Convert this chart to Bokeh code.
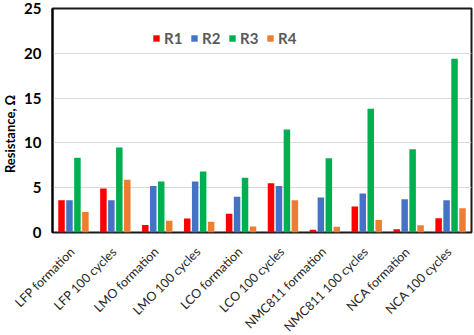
from bokeh.plotting import figure
from bokeh.models import (FactorRange, Range1d, Legend, LegendItem, FixedTicker,
                          ColumnDataSource)
from bokeh.layouts import column, row
from bokeh.core.properties import value
from bokeh.transform import dodge
from bokeh.embed import file_html
from bokeh.resources import INLINE
import math

categories = ["LFP formation", "LFP 100 cycles", "LMO formation", "LMO 100 cycles",
              "LCO formation", "LCO 100 cycles", "NMC811 formation", "NMC811 100 cycles",
              "NCA formation", "NCA 100 cycles"]
R1 = [3.6, 4.9, 0.85, 1.55, 2.1, 5.5, 0.3, 2.9, 0.35, 1.6]
R2 = [3.6, 3.6, 5.2, 5.7, 4.0, 5.2, 3.9, 4.35, 3.7, 3.6]
R3 = [8.35, 9.5, 5.7, 6.8, 6.1, 11.5, 8.3, 13.8, 9.3, 19.4]
R4 = [2.3, 5.9, 1.3, 1.2, 0.67, 3.6, 0.63, 1.4, 0.8, 2.7]
series_names = ["R1", "R2", "R3", "R4"]
series_colors = ["#FF0000", "#4472C4", "#00B050", "#ED7D31"]
y_ticks = [0, 5, 10, 15, 20, 25]
y_title = "Resistance, \u03a9"

W, H = 474, 335
TW = 18                      # width of the strip holding the y title
LEFT, RIGHT, TOP, BOT = 52, 3, 8, 8
H1 = 240                     # chart height (frame bottom at H1 - BOT)
H2 = H - H1                  # strip for category labels
n = len(categories)
unit = (W - LEFT - RIGHT) / n

source = ColumnDataSource(dict(cat=categories, R1=R1, R2=R2, R3=R3, R4=R4))

p = figure(width=W - TW, height=H1, x_range=FactorRange(*categories, range_padding=0),
           y_range=Range1d(0, 25), output_backend="svg", toolbar_location=None,
           min_border_left=LEFT - TW, min_border_right=RIGHT, min_border_top=TOP,
           min_border_bottom=BOT)

offsets = [-0.285, -0.095, 0.095, 0.285]
items = []
for name, col, off in zip(series_names, series_colors, offsets):
    r = p.vbar(x=dodge("cat", off, range=p.x_range), top=name, width=0.155, source=source,
               fill_color=col, line_color=None)
    items.append(LegendItem(label=name, renderers=[r]))

legend = Legend(items=items, orientation="horizontal", location=(100, 185),
                glyph_width=8, glyph_height=8, label_standoff=4, spacing=6,
                padding=0, margin=0, border_line_color=None, background_fill_alpha=0,
                label_text_font="Lato", label_text_font_size="15px",
                label_text_color="#595959", label_text_font_style="bold",
                label_height=16)
p.add_layout(legend)

p.outline_line_color = "#1a1a1a"
p.outline_line_width = 2
p.xgrid.grid_line_color = None
p.ygrid.grid_line_color = "#d9d9d9"
p.ygrid.grid_line_width = 1

p.xaxis.visible = False

p.yaxis.ticker = FixedTicker(ticks=y_ticks)
p.yaxis.major_label_text_font = "Lato"
p.yaxis.major_label_text_font_size = "15px"
p.yaxis.major_label_text_font_style = "bold"
p.yaxis.major_label_text_color = "#000000"
p.yaxis.major_label_standoff = 11
p.yaxis.major_tick_line_color = None
p.yaxis.minor_tick_line_color = None
p.yaxis.major_tick_out = 0
p.yaxis.major_tick_in = 0
p.yaxis.axis_line_color = "#000000"
p.yaxis.axis_line_width = 2

# strip on the left holding the y-axis title, sharing the chart's y scale
t = figure(width=TW, height=H1, x_range=Range1d(0, TW), y_range=p.y_range,
           output_backend="svg", toolbar_location=None, x_axis_type=None,
           y_axis_type=None, min_border_left=0, min_border_right=0,
           min_border_top=TOP, min_border_bottom=BOT, outline_line_color=None)
t.grid.visible = False
t.text(x=TW / 2, y=11.0, text=[y_title], angle=math.pi / 2, text_align="center",
       text_baseline="middle", text_font=value("Lato"), text_font_size="13px",
       text_font_style="bold", text_color="#000000")

# strip below the chart holding the rotated category labels
lab_src = ColumnDataSource(dict(pos=[i + 0.5 for i in range(n)], cat=categories))
q = figure(width=W, height=H2, x_range=Range1d(-LEFT / unit, n + RIGHT / unit),
           y_range=Range1d(-H2, 0), output_backend="svg", toolbar_location=None,
           x_axis_type=None, y_axis_type=None, min_border=0,
           min_border_left=0, min_border_right=0, min_border_top=0,
           min_border_bottom=0, outline_line_color=None)
q.grid.visible = False
q.text(x="pos", y=-9, text="cat", source=lab_src, angle=math.pi / 4,
       text_align="right", text_baseline="middle", x_offset=-1,
       text_font=value("Lato"), text_font_size="12.5px", text_color="#262626")

layout = column(row(t, p, spacing=0), q, spacing=0)
open("out.html", "w").write(file_html(layout, INLINE))
